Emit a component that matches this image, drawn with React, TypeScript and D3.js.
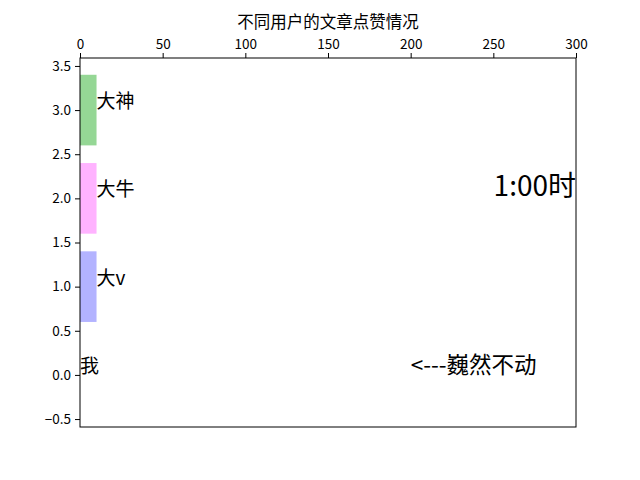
import { useEffect, useRef } from 'react';
import * as d3 from 'd3';

const categories = ['我', '大v', '大牛', '大神'];
const likes = [0, 10, 10, 10];
const barColors = ['#ffb3b3', '#b3b3ff', '#ffb3ff', '#95d795'];
const xTicks = [0, 50, 100, 150, 200, 250, 300];
const yTicks = [-0.5, 0, 0.5, 1, 1.5, 2, 2.5, 3, 3.5];

const notes = [
  { text: '1:00时', x: 300, y: 2, anchor: 'end', size: 28 },
  { text: '<---巍然不动', x: 200, y: 0, anchor: 'start', size: 22.5 },
];

const W = 640;
const H = 480;
const margin = { top: 58, right: 64, bottom: 53, left: 80 };
const font = '"Noto Sans CJK SC", "DejaVu Sans", sans-serif';

export default function App() {
  const svgRef = useRef<SVGSVGElement>(null);

  useEffect(() => {
    if (!svgRef.current) return;
    const svg = d3.select(svgRef.current);
    svg.selectAll('*').remove();

    const innerWidth = W - margin.left - margin.right;
    const innerHeight = H - margin.top - margin.bottom;

    const x = d3.scaleLinear().domain([0, 300]).range([0, innerWidth]);
    const y = d3.scaleLinear().domain([-0.59, 3.59]).range([innerHeight, 0]);

    svg.append('rect').attr('width', W).attr('height', H).attr('fill', '#fff');

    const g = svg.append('g').attr('transform', `translate(${margin.left},${margin.top})`);

    // bars, height 0.8 centred on the category index
    g.selectAll('rect.bar')
      .data(likes)
      .join('rect')
      .attr('class', 'bar')
      .attr('x', x(0))
      .attr('y', (_, i) => y(i + 0.4))
      .attr('width', (d) => x(d) - x(0))
      .attr('height', () => y(-0.4) - y(0.4))
      .attr('fill', (_, i) => barColors[i]);

    // labels at the bar ends
    g.selectAll('text.lbl')
      .data(likes)
      .join('text')
      .attr('class', 'lbl')
      .attr('x', (d) => x(d))
      .attr('y', (_, i) => y(i))
      .attr('dy', '-0.1em')
      .attr('font-size', 19)
      .attr('font-family', font)
      .attr('fill', '#000')
      .text((_, i) => categories[i]);

    notes.forEach((n) => {
      g.append('text')
        .attr('x', x(n.x))
        .attr('y', y(n.y))
        .attr('dy', '-0.1em')
        .attr('text-anchor', n.anchor)
        .attr('font-size', n.size)
        .attr('font-family', font)
        .attr('fill', '#000')
        .text(n.text);
    });

    const xAxis = g
      .append('g')
      .call(d3.axisTop(x).tickValues(xTicks).tickFormat(d3.format('d')).tickSize(5).tickPadding(4).tickSizeOuter(0));
    const yAxis = g
      .append('g')
      .call(
        d3
          .axisLeft(y)
          .tickValues(yTicks)
          .tickFormat((d) => d3.format('.1f')(d as number).replace('-', '\u2212'))
          .tickSize(5)
          .tickPadding(4)
          .tickSizeOuter(0)
      );
    [xAxis, yAxis].forEach((a) => {
      a.select('.domain').remove();
      a.selectAll('text').attr('font-size', 13.5).attr('font-family', font).attr('fill', '#000');
      a.selectAll('line').attr('stroke', '#000').attr('stroke-width', 1);
    });

    // spines
    g.append('rect')
      .attr('width', innerWidth)
      .attr('height', innerHeight)
      .attr('fill', 'none')
      .attr('stroke', '#000')
      .attr('stroke-width', 1);

    svg.append('text')
      .attr('x', margin.left + innerWidth / 2)
      .attr('y', 28)
      .attr('text-anchor', 'middle')
      .attr('font-size', 16.5)
      .attr('font-family', font)
      .attr('fill', '#000')
      .text('不同用户的文章点赞情况');
  }, []);

  return (
    <svg
      ref={svgRef}
      width={W}
      height={H}
      style={{ position: 'fixed', left: 0, top: 0, display: 'block' }}
    />
  );
}
